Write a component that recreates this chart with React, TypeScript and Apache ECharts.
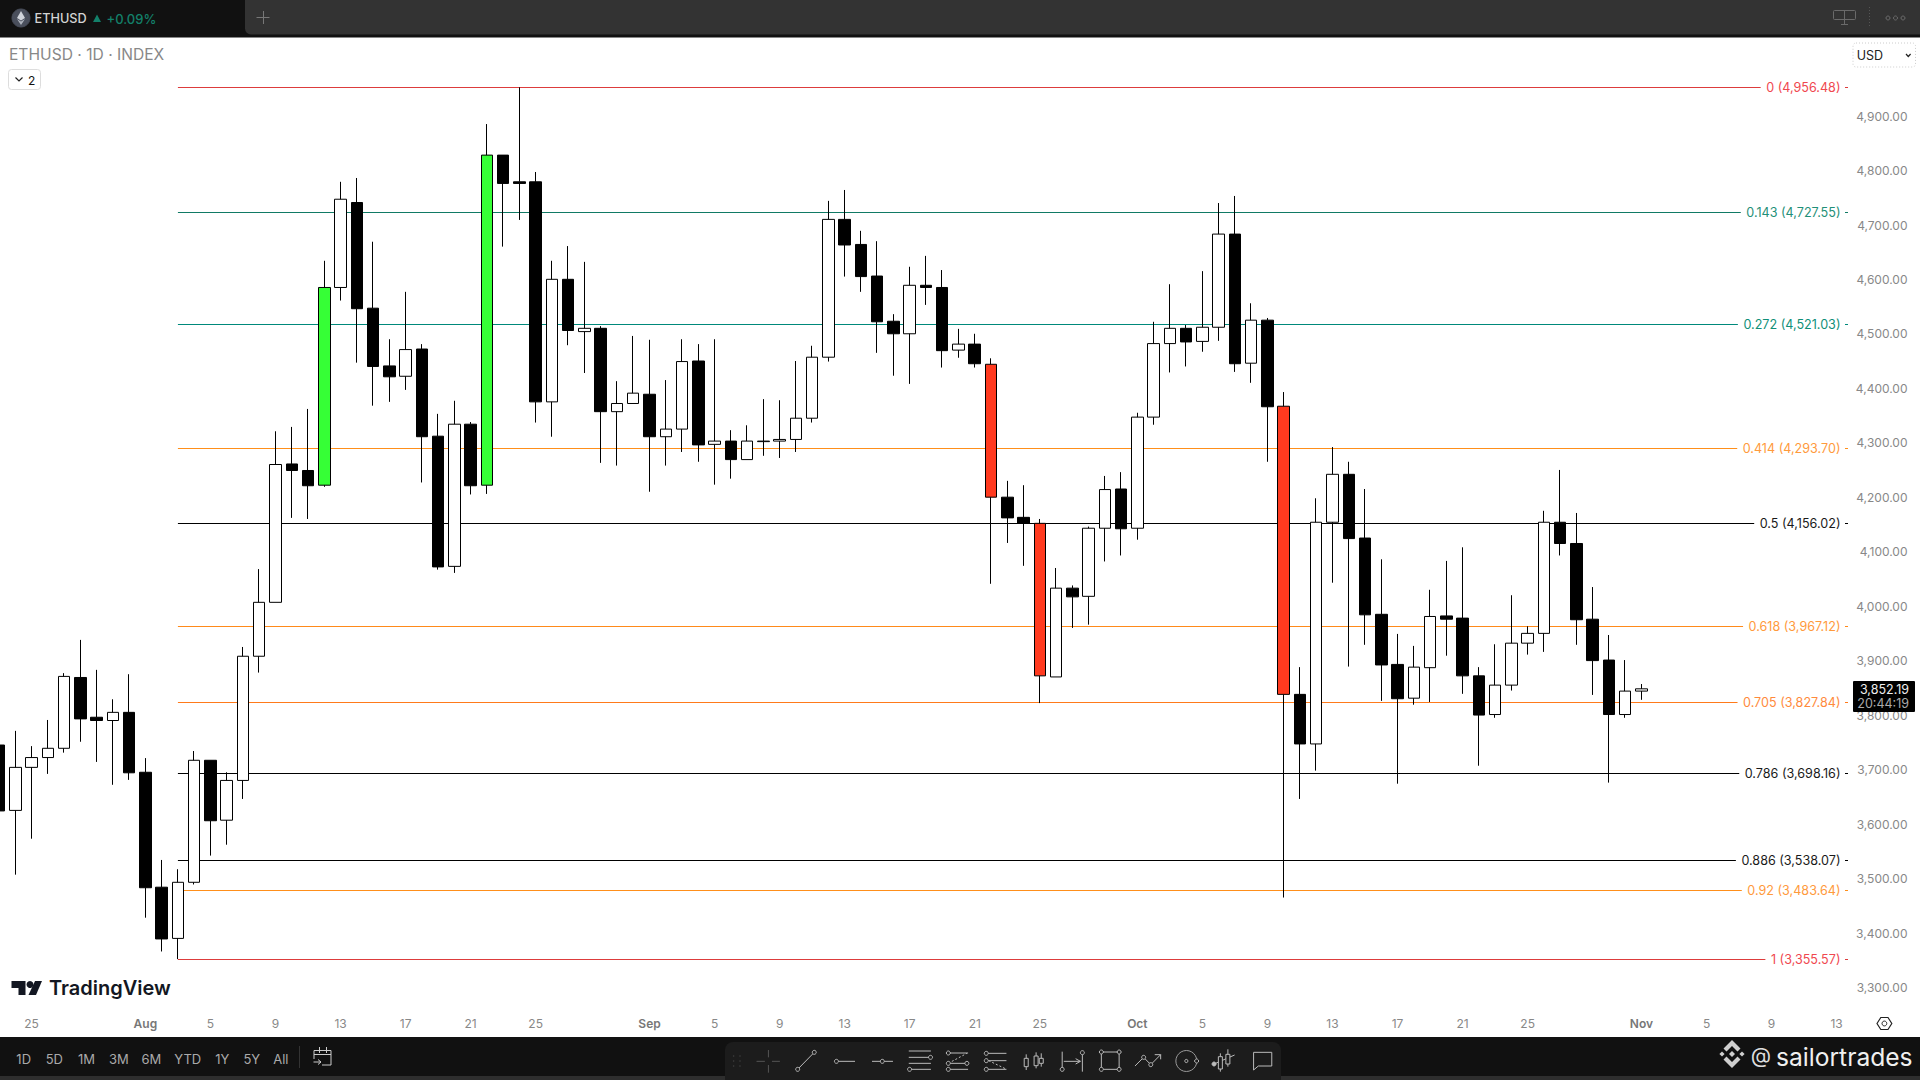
import React, { useEffect, useRef } from "react";
import * as echarts from "echarts";

const dates = [
  "Jul 23","Jul 24","Jul 25","Jul 26","Jul 27","Jul 28","Jul 29","Jul 30","Jul 31",
  "Aug 1","Aug 2","Aug 3","Aug 4","Aug 5","Aug 6","Aug 7","Aug 8","Aug 9","Aug 10","Aug 11","Aug 12","Aug 13","Aug 14","Aug 15","Aug 16","Aug 17","Aug 18","Aug 19","Aug 20","Aug 21","Aug 22","Aug 23","Aug 24","Aug 25","Aug 26","Aug 27","Aug 28","Aug 29","Aug 30","Aug 31",
  "Sep 1","Sep 2","Sep 3","Sep 4","Sep 5","Sep 6","Sep 7","Sep 8","Sep 9","Sep 10","Sep 11","Sep 12","Sep 13","Sep 14","Sep 15","Sep 16","Sep 17","Sep 18","Sep 19","Sep 20","Sep 21","Sep 22","Sep 23","Sep 24","Sep 25","Sep 26","Sep 27","Sep 28","Sep 29","Sep 30",
  "Oct 1","Oct 2","Oct 3","Oct 4","Oct 5","Oct 6","Oct 7","Oct 8","Oct 9","Oct 10","Oct 11","Oct 12","Oct 13","Oct 14","Oct 15","Oct 16","Oct 17","Oct 18","Oct 19","Oct 20","Oct 21","Oct 22","Oct 23","Oct 24","Oct 25","Oct 26","Oct 27","Oct 28","Oct 29","Oct 30","Oct 31",
  "Nov 1","Nov 2","Nov 3","Nov 4","Nov 5","Nov 6","Nov 7","Nov 8","Nov 9","Nov 10","Nov 11","Nov 12","Nov 13","Nov 14",
];

const tickLabels: Record<string, string> = {
  "Jul 25": "25", "Aug 1": "Aug", "Aug 5": "5", "Aug 9": "9", "Aug 13": "13", "Aug 17": "17", "Aug 21": "21", "Aug 25": "25",
  "Sep 1": "Sep", "Sep 5": "5", "Sep 9": "9", "Sep 13": "13", "Sep 17": "17", "Sep 21": "21", "Sep 25": "25",
  "Oct 1": "Oct", "Oct 5": "5", "Oct 9": "9", "Oct 13": "13", "Oct 17": "17", "Oct 21": "21", "Oct 25": "25",
  "Nov 1": "Nov", "Nov 5": "5", "Nov 9": "9", "Nov 13": "13",
};
const monthTicks = ["Aug", "Sep", "Oct", "Nov"];

const opens = [
  3749,3629,3708,3726,3743,3873,3800,3794,3809,3699,
  3488,3394,3497,3721,3611,3684,3912,4011,4265,4253,
  4226,4589,4745,4551,4445,4426,4476,4316,4077,4338,
  4226,4832,4783,4783,4379,4604,4508,4514,4361,4376,
  4393,4315,4329,4454,4301,4307,4273,4306,4307,4310,
  4349,4461,4714,4668,4610,4527,4504,4593,4589,4474,
  4485,4448,4204,4167,4156,3874,4037,4022,4147,4219,
  4147,4351,4486,4514,4490,4516,4687,4450,4529,4371,
  3842,3751,4158,4246,4129,3989,3897,3835,3891,3986,
  3982,3876,3805,3859,3936,3954,4158,4119,3980,3905,
  3805,3848,
];
const closes = [
  3628,3708,3726,3743,3875,3797,3794,3809,3698,3487,
  3393,3497,3721,3610,3684,3912,4011,4264,4253,4225,
  4589,4751,4550,4444,4425,4475,4315,4076,4338,4225,
  4832,4780,4780,4379,4604,4510,4514,4361,4376,4395,
  4315,4329,4453,4300,4307,4273,4307,4307,4310,4349,
  4461,4714,4667,4609,4526,4504,4593,4589,4473,4485,
  4449,4204,4166,4156,3876,4037,4021,4147,4218,4146,
  4351,4486,4514,4489,4516,4687,4449,4529,4370,3842,
  3751,4158,4246,4128,3988,3896,3834,3892,3985,3980,
  3876,3804,3859,3936,3954,4158,4119,3979,3904,3805,
  3848,3852.19,
];
const lows = [
  3628,3511,3577,3696,3735,3755,3718,3676,3685,3432,
  3370,3356,3493,3546,3566,3650,3882,4011,4166,4164,
  4223,4565,4451,4372,4379,4401,4231,4071,4065,4209,
  4210,4664,4713,4341,4315,4483,4432,4267,4262,4376,
  4214,4262,4287,4269,4227,4238,4273,4280,4276,4287,
  4341,4453,4609,4581,4469,4427,4412,4557,4442,4460,
  4442,4045,4120,4078,3826,3874,3964,3970,4086,4097,
  4126,4337,4433,4444,4471,4491,4434,4414,4269,3469,
  3650,3702,4047,3893,3933,3830,3678,3823,3828,3913,
  3843,3711,3799,3849,3915,3920,4097,3933,3841,3680,
  3799,3832,
];
const highs = [
  3749,3775,3747,3795,3881,3942,3887,3833,3879,3725,
  3538,3521,3738,3721,3699,3929,4072,4325,4333,4366,
  4638,4783,4790,4673,4494,4581,4485,4357,4381,4342,
  4889,4832,4956.48,4801,4638,4665,4636,4518,4417,4500,
  4493,4419,4494,4485,4494,4327,4336,4384,4382,4454,
  4482,4748,4768,4693,4674,4540,4627,4647,4621,4513,
  4504,4459,4234,4226,4164,4074,4042,4150,4243,4250,
  4359,4526,4595,4520,4619,4744,4757,4560,4533,4397,
  3892,4202,4296,4269,4219,4090,3953,3931,4034,4087,
  4112,3892,3934,4024,3967,4179,4254,4175,4039,3951,
  3905,3861,
];

const greenDates = ["Aug 12", "Aug 22"];
const redDates = ["Sep 22", "Sep 25", "Oct 10"];

const fibStart = "Aug 3";
const fibRatios = ["0", "0.143", "0.272", "0.414", "0.5", "0.618", "0.705", "0.786", "0.886", "0.92", "1"];
const fibPrices = [4956.48, 4727.55, 4521.03, 4293.7, 4156.02, 3967.12, 3827.84, 3698.16, 3538.07, 3483.64, 3355.57];
const fibLineColors = ["#dd3c3c", "#117a65", "#00897b", "#ff8f1a", "#000000", "#ff8a1a", "#ff7a1a", "#000000", "#000000", "#ff8f1a", "#dd3c3c"];
const fibTextColors = ["#f0484f", "#1f9078", "#0f8f78", "#ff9a3c", "#1a1a1a", "#ff9a3c", "#ff8a3c", "#1a1a1a", "#1a1a1a", "#ff9a3c", "#f0484f"];

const rangeLabels = ["1D", "5D", "1M", "3M", "6M", "YTD", "1Y", "5Y", "All"];
const rangeCenters = [23.7, 54.3, 86.5, 118.8, 151.4, 187.8, 222.4, 251.8, 280.8];

const FONT = "Inter, 'Noto Sans', sans-serif";
const OFFSET = 40;
const fmt2 = (v: number) => v.toLocaleString("en-US", { minimumFractionDigits: 2, maximumFractionDigits: 2 });

function buildGraphics() {
  const els: any[] = [];
  const rect = (x: number, y: number, w: number, h: number, fill: string, r: any = 0, stroke?: string, dash?: number[]) =>
    els.push({ type: "rect", z: 100, shape: { x, y, width: w, height: h, r }, style: { fill, stroke: stroke || null, lineWidth: stroke ? 1 : 0, lineDash: dash || null } });
  const line = (x1: number, y1: number, x2: number, y2: number, stroke: string, lineWidth = 1, dash?: number[]) =>
    els.push({ type: "line", z: 101, shape: { x1, y1, x2, y2 }, style: { stroke, lineWidth, lineDash: dash || null } });
  const circle = (cx: number, cy: number, r: number, stroke: string, fill: string | null = null, lineWidth = 1) =>
    els.push({ type: "circle", z: 101, shape: { cx, cy, r }, style: { stroke, fill, lineWidth } });
  const poly = (points: number[][], fill: string | null, stroke: string | null = null, lineWidth = 1) =>
    els.push({ type: "polygon", z: 101, shape: { points }, style: { fill, stroke, lineWidth } });
  const pline = (points: number[][], stroke: string, lineWidth = 1) =>
    els.push({ type: "polyline", z: 101, shape: { points }, style: { stroke, lineWidth, fill: null } });
  const text = (t: string, x: number, y: number, fill: string, font: string, align = "left") =>
    els.push({ type: "text", z: 102, style: { text: t, x, y, fill, font, align, verticalAlign: "middle" } });

  // top bar
  rect(0, 0, 1920, 37.5, "#111111");
  rect(245, 0, 1675, 34.5, "#333333", [0, 0, 0, 6]);
  circle(21, 18, 9, "#4a4f5c", "#4a4f5c");
  poly([[21, 11], [25, 18], [21, 20.5], [17, 18]], "#cfd3da");
  poly([[21, 21.5], [25, 19], [21, 25], [17, 19]], "#aeb3bd");
  text("ETHUSD", 34.5, 18.5, "#d4d4d4", `500 12.7px ${FONT}`);
  poly([[97, 14.5], [101, 22], [93, 22]], "#13806a");
  text("+0.09%", 106.5, 18.5, "#13806a", `500 13px ${FONT}`);
  line(256.5, 17.5, 269.5, 17.5, "#777777");
  line(263.5, 11, 263.5, 24, "#777777");
  rect(1833.5, 10.5, 22, 9, "rgba(0,0,0,0)", 1, "#6a6a6a");
  line(1844.5, 10.5, 1844.5, 24, "#6a6a6a");
  line(1841, 24.5, 1848, 24.5, "#6a6a6a");
  line(1869.5, 7, 1869.5, 28, "#555555", 1, [1, 2]);
  circle(1888, 18, 2, "#6a6a6a");
  circle(1895.5, 18, 2, "#6a6a6a");
  circle(1903, 18, 2, "#6a6a6a");

  // header texts
  text("ETHUSD · 1D · INDEX", 9, 54, "#888888", `15.6px ${FONT}`);
  rect(8.5, 69.5, 32, 20, "#ffffff", 3, "#dddddd");
  pline([[15.5, 77.5], [19, 81], [22.5, 77.5]], "#222222", 1.2);
  text("2", 31.7, 80, "#111111", `12px ${FONT}`, "center");
  rect(1853, 43, 62.5, 24, "#ffffff", 3, "#cccccc", [1, 2]);
  text("USD", 1856.7, 55, "#222222", `12.5px ${FONT}`);
  pline([[1906, 54], [1908.3, 56.5], [1910.6, 54]], "#222222", 1.2);

  // last price tag
  rect(1853, 681, 62, 31, "#000000", 1);
  text("3,852.19", 1909, 689, "#eeeeee", `12.5px ${FONT}`, "right");
  text("20:44:19", 1909, 703, "#aaaaaa", `12.5px ${FONT}`, "right");

  // TradingView logo
  poly([[11.5, 981], [25.5, 981], [25.5, 995], [18.5, 995], [18.5, 988], [11.5, 988]], "#131722");
  circle(30, 984.5, 3.5, "#131722", "#131722", 0);
  poly([[35, 981], [42, 981], [36, 995], [28.5, 995]], "#131722");
  text("TradingView", 49, 988, "#131722", `600 20px ${FONT}`);

  // settings hexagon
  poly([[1877, 1023.5], [1880.8, 1017.5], [1888, 1017.5], [1891.8, 1023.5], [1888, 1029.5], [1880.8, 1029.5]], null, "#222222", 1.2);
  circle(1884.4, 1023.5, 2.4, "#222222");

  // bottom bar
  rect(0, 1037, 1920, 43, "#111111");
  rect(0, 1076, 1920, 4, "#2e2e2e");
  rangeLabels.forEach((r, i) => text(r, rangeCenters[i], 1058.5, "#aaaaaa", `13px ${FONT}`, "center"));
  line(299.5, 1046, 299.5, 1068, "#333333");
  // calendar icon
  const cal = "#cccccc";
  pline([[314, 1059], [314, 1050.5], [331, 1050.5], [331, 1065], [322, 1065]], cal);
  line(319.5, 1047, 319.5, 1053, cal);
  line(326.5, 1047, 326.5, 1053, cal);
  line(314, 1054.5, 331, 1054.5, cal);
  line(313.5, 1062, 321, 1062, cal);
  pline([[318, 1059.5], [321, 1062], [318, 1064.5]], cal);

  // tool strip
  rect(725, 1042, 556, 38, "#1c1c1c", [8, 8, 0, 0]);
  const X = (a: number) => 700 + a / 2.529;
  const Y = (b: number) => 1020 + b / 3;
  const ic = "#bbbbbb";
  const L = (a: number, b: number, c: number, d: number, col = ic, dash?: number[]) => line(X(a), Y(b), X(c), Y(d), col, 1, dash);
  const O = (a: number, b: number, r = 2) => circle(X(a), Y(b), r, ic, "#1c1c1c");
  [85, 101].forEach((a) => [108, 123, 138].forEach((b) => circle(X(a), Y(b), 0.7, "#444444", "#444444", 0)));
  L(143, 124, 164, 124, "#555555"); L(182, 124, 202, 124, "#555555"); L(173, 90, 173, 112, "#555555"); L(173, 135, 173, 158, "#555555");
  L(247, 148, 289, 97); O(247, 148); O(289, 97);
  L(345, 124, 392, 124); O(345, 124);
  L(435, 124, 488, 124); O(461, 124);
  L(528, 93, 584, 93); L(528, 112, 584, 112); L(528, 130, 584, 130); L(530, 148, 584, 148); O(583, 112); O(530, 148);
  L(628, 99, 678, 99); L(628, 130, 678, 130); L(628, 148, 678, 148); L(628, 130, 675, 100, ic, [2, 2]); O(628, 99); O(628, 130); O(675, 130); O(628, 148);
  L(724, 100, 775, 100); L(724, 122, 775, 122); L(724, 148, 775, 148); L(730, 122, 772, 146, ic, [2, 2]); O(724, 100); O(724, 122); O(724, 148);
  const candle = (a: number, t: number, bt: number, bb: number, b: number) => {
    L(a, t, a, bt); L(a, bb, a, b);
    els.push({ type: "rect", z: 101, shape: { x: X(a) - 2, y: Y(bt), width: 4, height: Y(bb) - Y(bt) }, style: { stroke: ic, fill: "#1c1c1c", lineWidth: 1 } });
  };
  candle(825, 103, 115, 140, 150); candle(850, 97, 108, 137, 145); candle(863, 100, 115, 130, 140);
  L(916, 95, 916, 150); L(967, 98, 967, 155); L(920, 124, 962, 124); L(950, 116, 962, 124); L(950, 132, 962, 124); O(916, 148); O(967, 98);
  L(1015, 96, 1060, 96); L(1015, 148, 1060, 148); L(1015, 96, 1015, 148); L(1060, 96, 1060, 148); O(1015, 96); O(1060, 96); O(1015, 148); O(1060, 148);
  L(1100, 138, 1122, 112); L(1122, 112, 1140, 134); L(1140, 134, 1165, 104); L(1150, 104, 1165, 104); L(1165, 104, 1165, 118); O(1122, 112); O(1140, 134);
  circle(X(1230), Y(123), 10.5, "#999999", null); O(1230, 123, 1.6); O(1256, 123);
  L(1300, 132, 1352, 105); candle(1316, 100, 110, 147, 155); candle(1335, 88, 103, 132, 140); circle(X(1300), Y(132), 2, ic, ic);
  pline([[X(1400), Y(150)], [X(1400), Y(97)], [X(1446), Y(97)], [X(1446), Y(138)], [X(1412), Y(138)], [X(1400), Y(150)]], ic);

  // watermark
  const g = "#cfcfcf";
  const diamond = (cx: number, cy: number, r: number) => poly([[cx, cy - r], [cx + r, cy], [cx, cy + r], [cx - r, cy]], g);
  diamond(1732, 1054, 3); diamond(1722, 1054, 2.6); diamond(1742, 1054, 2.6);
  poly([[1732, 1040], [1740.5, 1048.5], [1737.5, 1051.5], [1732, 1046], [1726.5, 1051.5], [1723.5, 1048.5]], g);
  poly([[1732, 1068], [1740.5, 1059.5], [1737.5, 1056.5], [1732, 1062], [1726.5, 1056.5], [1723.5, 1059.5]], g);
  text("@", 1761, 1055, "#dddddd", `21px ${FONT}`, "center");
  text("sailortrades", 1776, 1056.5, "#f0f0f0", `24.6px ${FONT}`);
  els.forEach((e) => { e.x = OFFSET; });
  return els;
}

export default function App() {
  const ref = useRef<HTMLDivElement>(null);
  useEffect(() => {
    const chart = echarts.init(ref.current!, null, { renderer: "svg" });
    const candles = opens.map((o, i) => {
      const value = [o, closes[i], lows[i], highs[i]];
      const d = dates[i];
      if (greenDates.includes(d)) return { value, itemStyle: { color: "#36ff36", color0: "#36ff36", borderColor: "#000", borderColor0: "#000" } };
      if (redDates.includes(d)) return { value, itemStyle: { color: "#ff3a1f", color0: "#ff3a1f", borderColor: "#000", borderColor0: "#000" } };
      return { value };
    });
    const fibRows = fibPrices.map((p, i) => [fibStart, p, i]);
    const LINE_END = 1848 + OFFSET;
    const option: any = {
      animation: false,
      backgroundColor: "#ffffff",
      textStyle: { fontFamily: FONT },
      grid: { left: OFFSET - 9.09, top: 63.6, width: 1870.1, height: 926 },
      xAxis: {
        type: "category",
        data: dates,
        boundaryGap: true,
        axisLine: { show: false },
        axisTick: { show: false },
        splitLine: { show: false },
        axisLabel: {
          interval: 0,
          hideOverlap: false,
          margin: 27.5,
          fontFamily: FONT,
          fontSize: 12,
          color: "#888888",
          formatter: (v: string) => {
            const t = tickLabels[v];
            if (!t) return "";
            return monthTicks.includes(t) ? `{m|${t}}` : t;
          },
          rich: { m: { fontFamily: FONT, fontSize: 12, fontWeight: 600, color: "#777777" } },
        },
      },
      yAxis: {
        type: "value",
        position: "right",
        min: 3300,
        max: 5000,
        interval: 100,
        scale: true,
        axisLine: { show: false },
        axisTick: { show: false },
        splitLine: { show: false },
        axisLabel: {
          showMaxLabel: false,
          align: "right",
          verticalAlign: "bottom",
          lineHeight: 4,
          margin: 46.5,
          fontFamily: FONT,
          fontSize: 12,
          color: "#888888",
          formatter: (v: number) => fmt2(v),
        },
      },
      series: [
        {
          type: "custom",
          z: 1,
          data: fibRows,
          encode: { x: 0, y: 1 },
          clip: false,
          renderItem: (params: any, api: any) => {
            const i = api.value(2);
            const p = api.coord([api.value(0), api.value(1)]);
            const y = Math.floor(p[1] + 0.45) + 0.5;
            return {
              type: "group",
              children: [
                { type: "line", shape: { x1: p[0], y1: y, x2: LINE_END, y2: y }, style: { stroke: fibLineColors[i], lineWidth: 1 } },
                {
                  type: "text",
                  style: {
                    text: `${fibRatios[i]} (${fmt2(fibPrices[i])})`,
                    x: 1845 + OFFSET,
                    y: y,
                    fill: fibTextColors[i],
                    font: `12.6px ${FONT}`,
                    align: "right",
                    verticalAlign: "middle",
                    backgroundColor: "#ffffff",
                    padding: [1, 4.5, 1, 5.5],
                  },
                },
              ],
            };
          },
        },
        {
          type: "candlestick",
          z: 2,
          barWidth: 12,
          data: candles,
          itemStyle: { color: "#ffffff", color0: "#000000", borderColor: "#000000", borderColor0: "#000000", borderWidth: 1 },
        },
      ],
      graphic: { elements: buildGraphics() },
    };
    chart.setOption(option);
    return () => chart.dispose();
  }, []);
  return <div ref={ref} style={{ position: "fixed", left: -OFFSET, top: 0, width: 1920 + OFFSET, height: 1080, background: "#fff" }} />;
}
